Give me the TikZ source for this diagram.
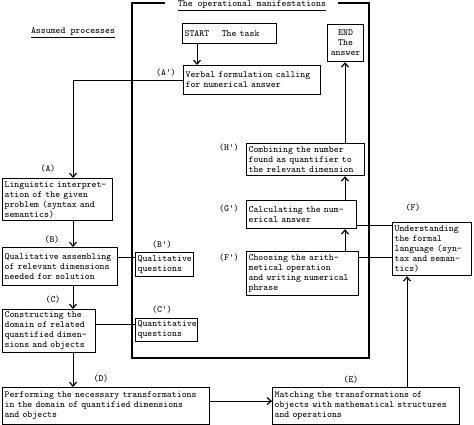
\documentclass[tikz,border=0pt]{standalone}
\usepackage{tikz}
\usetikzlibrary{positioning,calc,arrows.meta}

\tikzset{
  box/.style={draw, line width=1.2pt, anchor=north west, align=left,
    inner xsep=2pt, inner ysep=1pt, font=\fontsize{9.4}{10}\selectfont\ttfamily},
  lbl/.style={font=\fontsize{9.4}{10}\selectfont\ttfamily, inner sep=0pt},
  arr/.style={line width=0.8pt, -{Straight Barb[length=4pt,width=7pt,line width=1.2pt]}},
  link/.style={line width=0.8pt},
  frame/.style={line width=2.4pt},
}

\begin{document}
\begin{tikzpicture}[x=1pt, y=-1pt]
    \useasboundingbox (0,0) rectangle (474,425);

    % frame of the operational manifestations
    \draw[frame] (165,3) -- (132,3) -- (132,358) -- (369,358) -- (369,3) -- (338,3);
    \node[lbl] (title) at (252,5.5) {\underline{The operational manifestations}};
    \node[lbl] (assumed) at (73,33) {\underline{Assumed processes}};

    % operational side
    \node[box, text width=90pt, minimum height=20pt] (start) at (182,23) {START~~~~The task};
    \node[box, text width=133pt, minimum height=29pt] (verbal) at (183,65) {Verbal formulation calling\\for numerical answer};
    \node[box, align=center, text width=32pt, minimum height=37pt] (end) at (327,24) {END\\The\\answer};
    \node[box, text width=114pt, minimum height=32pt] (combine) at (246,143) {Combining the number\\found as quantifier to\\the relevant dimension};
    \node[box, text width=106pt, minimum height=28pt] (calc) at (246,200) {Calculating the num-\\erical answer};
    \node[box, text width=108pt, minimum height=44pt] (choose) at (246,251) {Choosing the arith-\\metical operation\\and writing numerical\\phrase};
    \node[box, text width=54pt, minimum height=24pt] (qualq) at (135,252) {Qualitative\\questions};
    \node[box, text width=58pt, minimum height=23pt] (quantq) at (135,318) {Quantitative\\questions};

    % assumed processes
    \node[box, text width=106pt, minimum height=42pt] (ling) at (2,178) {Linguistic interpret-\\ation of the given\\problem (syntax and\\semantics)};
    \node[box, text width=111pt, minimum height=38pt] (qual) at (2,247) {Qualitative assembling\\of relevant dimensions\\needed for solution};
    \node[box, text width=89pt, minimum height=43pt] (constr) at (2,309) {Constructing the\\domain of related\\quantified dimen-\\sions and objects};
    \node[box, text width=203pt, minimum height=37pt] (perform) at (2,387) {Performing the necessary transformations\\in the domain of quantified dimensions\\and objects};
    \node[box, text width=183pt, minimum height=37pt] (match) at (272,387) {Matching the transformations of\\objects with mathematical structures\\and operations};
    \node[box, text width=75pt, minimum height=53pt] (understand) at (392,222) {Understanding\\the formal\\language (syn-\\tax and seman-\\tics)};

    % labels
    \node[lbl] (lblAp) at (166,73) {(A')};
    \node[lbl] (lblHp) at (229,148) {(H')};
    \node[lbl] (lblGp) at (229,209) {(G')};
    \node[lbl] (lblFp) at (229,258) {(F')};
    \node[lbl] (lblBp) at (162,245) {(B')};
    \node[lbl] (lblCp) at (162,310) {(C')};
    \node[lbl] (lblA) at (48,169) {(A)};
    \node[lbl] (lblB) at (52,240) {(B)};
    \node[lbl] (lblC) at (53,300) {(C)};
    \node[lbl] (lblD) at (101,379) {(D)};
    \node[lbl] (lblE) at (351,380) {(E)};
    \node[lbl] (lblF) at (413,208) {(F)};

    % connectors
    \coordinate (spineL) at (73,0);
    \coordinate (spineR) at (345,0);
    \draw[arr] ([xshift=15pt]start.south west) -- ([xshift=15pt]start.south west |- verbal.north);
    \draw[arr] (verbal.west) -| (spineL |- ling.north);
    \draw[arr] (spineL |- ling.south) -- (spineL |- qual.north);
    \draw[arr] (spineL |- qual.south) -- (spineL |- constr.north);
    \draw[arr] (spineL |- constr.south) -- (spineL |- perform.north);
    \draw[link] ([yshift=7pt]qualq.west) -- ([yshift=7pt]qualq.west -| qual.east);
    \draw[link] ([yshift=6pt]quantq.west) -- ([yshift=6pt]quantq.west -| constr.east);
    \draw[arr] ([yshift=5pt]perform.east) -- ([yshift=5pt]perform.east -| match.west);
    \draw[arr] ([xshift=15pt]understand.south west |- match.north) -- ([xshift=15pt]understand.south west);
    \draw[link] ([yshift=4pt]calc.south east) -- ([yshift=4pt]calc.south east -| understand.west);
    \draw[link] ([yshift=-6pt]choose.north east) -- ([yshift=-6pt]choose.north east -| understand.west);
    \draw[arr] (spineR |- choose.north) -- (spineR |- calc.south);
    \draw[arr] (spineR |- calc.north) -- (spineR |- combine.south);
    \draw[arr] (spineR |- combine.north) -- (spineR |- end.south);
\end{tikzpicture}
\end{document}
